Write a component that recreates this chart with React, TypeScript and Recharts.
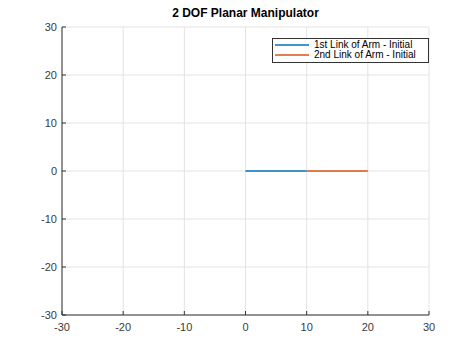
import { LineChart, Line, XAxis, YAxis, CartesianGrid } from "recharts";

// link endpoints (x, y)
const link1X = [0, 10];
const link1Y = [0, 0];
const link2X = [10, 20];
const link2Y = [0, 0];

const axisTicks = [-30, -20, -10, 0, 10, 20, 30];
const seriesNames = ["1st Link of Arm - Initial", "2nd Link of Arm - Initial"];
const seriesColors = ["#0072BD", "#D95319"];

const link1 = link1X.map((x, i) => ({ x, y: link1Y[i] }));
const link2 = link2X.map((x, i) => ({ x, y: link2Y[i] }));

const font = "'Liberation Sans', Arial, sans-serif";
const axisColor = "#333333";

function LegendBox() {
  return (
    <div
      style={{
        position: "absolute",
        left: 272,
        top: 38,
        width: 153,
        height: 22,
        border: "1px solid #333333",
        background: "#fff",
        padding: "1px 0 0 2px",
        fontFamily: font,
        fontSize: 10,
        color: "#000",
        lineHeight: "10px",
      }}
    >
      {seriesNames.map((name, i) => (
        <div key={name} style={{ display: "flex", alignItems: "center", height: 10 }}>
          <svg width={34} height={4} style={{ marginRight: 5, display: "block" }}>
            <line x1={0} y1={2} x2={34} y2={2} stroke={seriesColors[i]} strokeWidth={1.5} />
          </svg>
          <span>{name}</span>
        </div>
      ))}
    </div>
  );
}

export default function App() {
  return (
    <div style={{ position: "absolute", left: 0, top: 0, width: 474, height: 355, background: "#fff" }}>
      <LineChart width={474} height={355} margin={{ top: 27, right: 45, left: 0, bottom: 0 }}>
        <CartesianGrid stroke="#e3e3e3" strokeWidth={1} />
        <XAxis
          type="number"
          dataKey="x"
          domain={[-30, 30]}
          ticks={axisTicks}
          allowDataOverflow
          height={40}
          tickSize={-4}
          tickMargin={12}
          stroke={axisColor}
          tick={{ fill: "#3a3a3a", fontSize: 11, fontFamily: font }}
          interval={0}
        />
        <XAxis
          xAxisId="top"
          orientation="top"
          type="number"
          domain={[-30, 30]}
          ticks={axisTicks}
          allowDataOverflow
          height={0}
          tickSize={-4}
          stroke={axisColor}
          tickFormatter={() => ""}
          interval={0}
        />
        <YAxis
          type="number"
          dataKey="y"
          domain={[-30, 30]}
          ticks={axisTicks}
          allowDataOverflow
          width={62}
          tickSize={-4}
          tickMargin={9}
          stroke={axisColor}
          tick={{ fill: "#3a3a3a", fontSize: 11, fontFamily: font }}
          interval={0}
        />
        <YAxis
          yAxisId="right"
          orientation="right"
          type="number"
          domain={[-30, 30]}
          ticks={axisTicks}
          allowDataOverflow
          width={0}
          tickSize={-4}
          stroke={axisColor}
          tickFormatter={() => ""}
          interval={0}
        />
        <Line
          data={link1}
          dataKey="y"
          stroke={seriesColors[0]}
          strokeWidth={1.5}
          dot={false}
          isAnimationActive={false}
          name={seriesNames[0]}
        />
        <Line
          data={link2}
          dataKey="y"
          stroke={seriesColors[1]}
          strokeWidth={1.5}
          dot={false}
          isAnimationActive={false}
          name={seriesNames[1]}
        />
      </LineChart>
      <div
        style={{
          position: "absolute",
          left: 62,
          width: 367,
          top: 6,
          textAlign: "center",
          fontFamily: font,
          fontWeight: "bold",
          fontSize: 12,
          color: "#000",
        }}
      >
        2 DOF Planar Manipulator
      </div>
      <LegendBox />
    </div>
  );
}
